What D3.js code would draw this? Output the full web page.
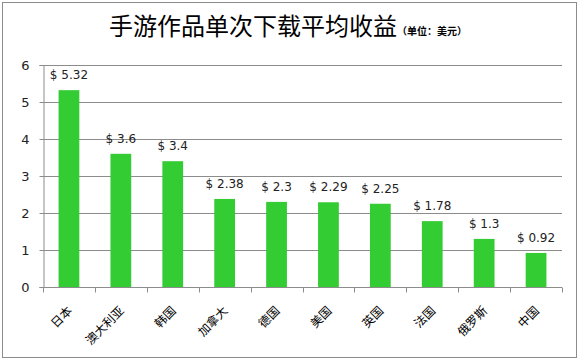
<!DOCTYPE html>
<html>
<head>
<meta charset="utf-8">
<script src="https://cdn.jsdelivr.net/npm/d3@7"></script>
<style>
  body { margin: 0; background: #fff; }
  svg { display: block; }
</style>
</head>
<body>
<div class="chart_container"></div>
<script>
var countries = ["日本", "澳大利亚", "韩国", "加拿大", "德国", "美国", "英国", "法国", "俄罗斯", "中国"];
var revenue = [5.32, 3.6, 3.4, 2.38, 2.3, 2.29, 2.25, 1.78, 1.3, 0.92];
var yTicks = [0, 1, 2, 3, 4, 5, 6];

var width = 580, height = 362;
var plotLeft = 43, plotRight = 562, plotTop = 65, plotBottom = 287;

var svg = d3.select(".chart_container").append("svg")
    .attr("width", width)
    .attr("height", height);

// outer frame
svg.append("rect")
    .attr("x", 2.5).attr("y", 2.5)
    .attr("width", 574).attr("height", 355)
    .attr("fill", "#fff")
    .attr("stroke", "#8c8c8c");

// title
var title = svg.append("text")
    .attr("x", 288)
    .attr("y", 35)
    .attr("text-anchor", "middle")
    .style("font-family", "'Noto Sans CJK SC'")
    .style("fill", "#000");
title.append("tspan")
    .style("font-size", "24px")
    .text("手游作品单次下载平均收益");
title.append("tspan")
    .style("font-size", "10px")
    .style("font-weight", "bold")
    .text("（单位：美元）");

var x = d3.scaleBand()
    .domain(countries)
    .range([plotLeft, plotRight])
    .paddingInner(0.6)
    .paddingOuter(0.3);

var bandX = d3.scaleBand().domain(countries).range([plotLeft, plotRight]);

var y = d3.scaleLinear()
    .domain([0, 6])
    .range([plotBottom, plotTop]);

// gridlines
svg.append("g")
    .selectAll("line")
    .data(yTicks.slice(1))
    .enter().append("line")
        .attr("x1", plotLeft).attr("x2", plotRight)
        .attr("y1", d => Math.round(y(d)) + 0.5)
        .attr("y2", d => Math.round(y(d)) + 0.5)
        .attr("stroke", "#8c8c8c");

// y axis
var yAxis = svg.append("g")
    .attr("transform", "translate(" + (plotLeft + 0.5) + ",0)")
    .call(d3.axisLeft(y).tickValues(yTicks).tickFormat(d3.format("d")).tickSize(4).tickPadding(10));
yAxis.select(".domain").attr("stroke", "#8c8c8c");
yAxis.selectAll(".tick line").attr("stroke", "#8c8c8c");
yAxis.selectAll("text")
    .style("font-family", "'DejaVu Sans'")
    .style("font-size", "13px")
    .style("fill", "#222");

// bars
svg.append("g")
    .selectAll("rect")
    .data(revenue)
    .enter().append("rect")
        .attr("x", (d, i) => x(countries[i]))
        .attr("y", d => y(d))
        .attr("width", x.bandwidth())
        .attr("height", d => y(0) - y(d))
        .attr("fill", "#33cc33");

// value labels
svg.append("g")
    .selectAll("text")
    .data(revenue)
    .enter().append("text")
        .attr("x", (d, i) => x(countries[i]) + x.bandwidth() / 2)
        .attr("y", d => y(d) - 11)
        .attr("text-anchor", "middle")
        .style("font-family", "'DejaVu Sans'")
        .style("font-size", "12px")
        .style("fill", "#222")
        .text(d => "$ " + d);

// x axis line and ticks between categories
var xAxis = svg.append("g")
    .attr("transform", "translate(0," + (plotBottom + 0.5) + ")");
xAxis.append("line")
    .attr("x1", plotLeft).attr("x2", plotRight)
    .attr("stroke", "#8c8c8c");
xAxis.selectAll("line.tk")
    .data(countries.concat(["end"]))
    .enter().append("line")
        .attr("class", "tk")
        .attr("x1", (d, i) => Math.round(plotLeft + i * bandX.bandwidth()) + 0.5)
        .attr("x2", (d, i) => Math.round(plotLeft + i * bandX.bandwidth()) + 0.5)
        .attr("y1", 0).attr("y2", 5)
        .attr("stroke", "#8c8c8c");

// rotated category labels
xAxis.selectAll("text")
    .data(countries)
    .enter().append("text")
        .attr("transform", d => "translate(" + (bandX(d) + bandX.bandwidth() / 2 - 2) + ",18) rotate(-45)")
        .attr("text-anchor", "end")
        .attr("dy", "0.7em")
        .style("font-family", "'Noto Sans CJK SC'")
        .style("font-size", "12px")
        .style("fill", "#000")
        .text(d => d);
</script>
</body>
</html>
